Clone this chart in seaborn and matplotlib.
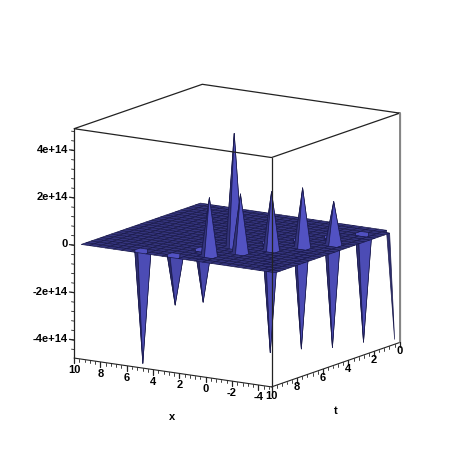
import numpy as np
import matplotlib
matplotlib.use('Agg')
import matplotlib.pyplot as plt
from mpl_toolkits.mplot3d import proj3d
import seaborn as sns

sns.set_style('white')
plt.rcParams['font.family'] = ['Liberation Sans', 'DejaVu Sans']
plt.rcParams['axes.unicode_minus'] = False

# values
x_values = np.linspace(-5, 9.75, 25)
t_values = np.linspace(0.4, 9.7, 25)
# grid nodes of the spikes, counted from x=10 and from t=10
spike_x = [14, 14, 16, 18, 20, 22, 7, 11, 12, 16, 18, 20, 22, 24]
spike_t = [8, 3, 6, 9, 12, 15, 1, 1, 5, 12, 15, 18, 21, 24]
spike_z = [4.8e14, 2.45e14, 2.49e14, 2.47e14, 2.51e14, 1.82e14,
           -4.74e14, -2.08e14, -2.2e14, -4.64e14, -4.6e14, -4.66e14, -4.55e14, -4.55e14]
x_ticks = [10, 8, 6, 4, 2, 0, -2, -4]
t_ticks = [10, 8, 6, 4, 2, 0]
z_ticks = [-4e14, -2e14, 0, 2e14, 4e14]
z_labels = ['-4e+14', '-2e+14', '0', '2e+14', '4e+14']

xlim = (-5, 10)
tlim = (0, 10)
zlim = (-4.76e14, 4.92e14)

Z = np.zeros((25, 25))
for i, j, z in zip(spike_x, spike_t, spike_z):
    Z[24 - j, 24 - i] = z
X, T = np.meshgrid(x_values, t_values)

# two sided lighting, plot_surface's own shading leaves the undersides black
nx = X / (xlim[1] - xlim[0])
nt = T / (tlim[1] - tlim[0])
nz = Z / (zlim[1] - zlim[0])
d1 = np.stack([nx[1:, 1:] - nx[:-1, :-1], nt[1:, 1:] - nt[:-1, :-1], nz[1:, 1:] - nz[:-1, :-1]], axis=-1)
d2 = np.stack([nx[1:, :-1] - nx[:-1, 1:], nt[1:, :-1] - nt[:-1, 1:], nz[1:, :-1] - nz[:-1, 1:]], axis=-1)
normals = np.cross(d1, d2)
normals = normals / np.linalg.norm(normals, axis=-1, keepdims=True)
light = np.array([-0.45, 0.85, 0.4])
light = light / np.linalg.norm(light)
bright = 0.4 + 0.6 * np.abs(normals @ light)
base = np.array([84, 84, 200]) / 255
faces = np.dstack([bright * base[0], bright * base[1], bright * base[2], np.ones_like(bright)])

fig = plt.figure(figsize=(4.74, 4.74), dpi=100)
ax = fig.add_axes([-6.5 / 474, -5 / 474, 1, 1], projection='3d', proj_type='ortho')
ax.view_init(elev=13, azim=123)
ax.set_box_aspect((1, 1, 1), zoom=0.835)

ax.plot_surface(X, T, Z, rstride=1, cstride=1, facecolors=faces, edgecolor='#1a1a4c',
                linewidth=0.5, antialiased=True, shade=False)

ax.set_xlim(*xlim, view_margin=0)
ax.set_ylim(*tlim, view_margin=0)
ax.set_zlim(*zlim, view_margin=0)

# ticks and their labels get drawn by hand below
ax.set_xticks([])
ax.set_yticks([])
ax.set_zticks([])
ax.grid(False)
for axis in (ax.xaxis, ax.yaxis, ax.zaxis):
    axis.set_pane_color((1, 1, 1, 0))
    axis.pane.set_edgecolor((1, 1, 1, 0))
    axis.line.set_color('#222222')
fig.text(172 / 474, 1 - 417 / 474, 'x', fontsize=8, fontweight='bold', color='k', ha='center', va='center')
fig.text(336 / 474, 1 - 411 / 474, 't', fontsize=8, fontweight='bold', color='k', ha='center', va='center')

# box edges
box = dict(color='#222222', lw=0.9)
x0, x1 = xlim
t0, t1 = tlim
z0, z1 = zlim
ax.plot([x0, x1, x1, x0, x0], [t0, t0, t1, t1, t0], [z1] * 5, **box)
ax.plot([x0, x0], [t1, t1], [z0, z1], **box)
ax.plot([x0, x0], [t0, t0], [z0, z1], color='#888888', lw=1.4)
ax.plot([x1, x1], [t1, t1], [z0, z1], **box)

# minor ticks
minor = dict(color='#222222', lw=0.6)
for v in np.arange(-4.8, 10.01, 0.4):
    ax.plot([v, v], [t1, t1], [z0, z0 - 1.2e13], **minor)
for v in np.arange(0, 10.01, 0.4):
    ax.plot([x0, x0], [v, v], [z0, z0 - 1.2e13], **minor)
for v in np.arange(-4.4e14, 4.81e14, 4e13):
    ax.plot([x1, x1 + 0.2], [t1, t1], [v, v], **minor)

# major ticks
major = dict(color='#222222', lw=0.9)
for v in x_ticks:
    ax.plot([v, v], [t1, t1], [z0, z0 - 2.1e13], **major)
for v in t_ticks:
    ax.plot([x0, x0], [v, v], [z0, z0 - 2.1e13], **major)
for v in z_ticks:
    ax.plot([x1, x1 + 0.35], [t1, t1], [v, v], **major)

# tick labels as 2d text at the projected spot, the 3d axis puts them too far out
M = ax.get_proj()
label = dict(fontsize=8, fontweight='bold', color='k', va='center', transform=ax.transData)


def put_label(x, t, z, s, ha):
    px, py, _ = proj3d.proj_transform(x, t, z, M)
    ax.text2D(px, py, s, ha=ha, **label)


for v, lab in zip(z_ticks, z_labels):
    put_label(x1 + 0.45, t1, v, lab, 'right')
for v in x_ticks:
    put_label(v, t1, z0 - 5.05e13, str(v), 'center')
for v in t_ticks:
    put_label(x0, v, z0 - 3.8e13, str(v), 'center')

fig.savefig('out.png', dpi=100)
